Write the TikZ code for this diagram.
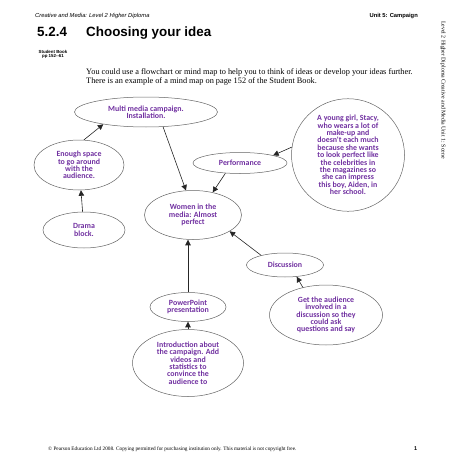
\documentclass[tikz,border=0pt]{standalone}
\usepackage{fontspec}
\setmainfont{Liberation Serif}
\newfontfamily\MapFont{Carlito}
\newfontfamily\HeadFont{Liberation Sans}
\usetikzlibrary{shapes.geometric}
\usetikzlibrary{arrows.meta}
\definecolor{ColText}{RGB}{112,48,160}
\definecolor{ColLine}{RGB}{100,100,100}
\tikzstyle{NodeMap}=[ellipse,draw=ColLine,line width=0.5pt,inner sep=0pt,align=center,
text=ColText,font=\MapFont\bfseries\fontsize{7.9}{7.4}\selectfont]
\tikzstyle{EdgeMap}=[black!85,line width=0.6pt,-{Triangle[length=5.5pt,width=5.5pt]}]
\tikzstyle{HeadText}=[anchor=base west,inner sep=0pt]
\begin{document}
\begin{tikzpicture}[x=1pt,y=-1pt]
    \useasboundingbox (0,0) rectangle (452,452);
    % page header
    \node[HeadText,font=\HeadFont\itshape\fontsize{5.8}{7}\selectfont](hdl)at(35,18){Creative and Media: Level 2 Higher Diploma};
    \node[HeadText,anchor=base east,font=\HeadFont\bfseries\fontsize{5.8}{7}\selectfont](hdr)at(418,18){Unit 5: Campaign};
    \node[HeadText,font=\HeadFont\bfseries\fontsize{13.4}{15}\selectfont](num)at(37,37){5.2.4};
    \node[HeadText,font=\HeadFont\bfseries\fontsize{13.4}{15}\selectfont](title)at(86,37){Choosing your idea};
    \node[inner sep=0pt,align=center,font=\HeadFont\bfseries\fontsize{4.4}{4.2}\selectfont](book)at(53,54){Student Book\\pp 152--61};
    \node[HeadText,font=\fontsize{8.3}{9}\selectfont](intro1)at(86,74.5){You could use a flowchart or mind map to help you to think of ideas or develop your ideas further.};
    \node[HeadText,font=\fontsize{8.3}{9}\selectfont](intro2)at(86,83){There is an example of a mind map on page 152 of the Student Book.};
    \node[inner sep=0pt,rotate=-90,font=\fontsize{5.8}{7}\selectfont](side)at(443,90){Level 2 Higher Diploma Creative and Media Unit 1: Scene};
    % mind map
    \node[NodeMap,minimum width=143pt,minimum height=30pt](multi)at(146,112){Multi media campaign.\\Installation.};
    \node[NodeMap,minimum width=90pt,minimum height=50pt](enough)at(79,165){Enough space\\to go around\\with the\\audience.};
    \node[NodeMap,minimum width=82pt,minimum height=36pt](drama)at(84,230){Drama\\block.};
    \node[NodeMap,minimum width=97pt,minimum height=49pt](women)at(193,215){Women in the\\media: Almost\\perfect};
    \node[NodeMap,minimum width=94pt,minimum height=21pt](perf)at(240,163){Performance};
    \node[NodeMap,minimum width=113pt,minimum height=110pt](stacy)at(348,155){A young girl, Stacy,\\who wears a lot of\\make-up and\\doesn't each much\\because she wants\\to look perfect like\\the celebrities in\\the magazines so\\she can impress\\this boy, Aiden, in\\her school.};
    \node[NodeMap,minimum width=77pt,minimum height=24pt](disc)at(285,265){Discussion};
    \node[NodeMap,minimum width=113pt,minimum height=60pt](audience)at(326,315){Get the audience\\involved in a\\discussion so they\\could ask\\questions and say};
    \node[NodeMap,minimum width=76pt,minimum height=29pt](ppt)at(188,307){PowerPoint\\presentation};
    \node[NodeMap,minimum width=111pt,minimum height=67pt](campaign)at(188,363){Introduction about\\the campaign. Add\\videos and\\statistics to\\convince the\\audience to};
    \draw[EdgeMap](enough.79)--(multi.196);
    \draw[EdgeMap](drama)--(enough);
    \draw[EdgeMap](multi.-41)--(women.106);
    \draw[EdgeMap](perf.-145)--(women.49);
    \draw[EdgeMap](stacy.172)--(perf.13);
    \draw[EdgeMap](disc.158)--(women.-24);
    \draw[EdgeMap](audience.130)--(disc.-45);
    \draw[EdgeMap](ppt.north)--(ppt.north|-women.south);
    \draw[EdgeMap](campaign)--(ppt);
    % page footer
    \node[HeadText,font=\fontsize{5.25}{6}\selectfont](foot)at(48,450){\textcopyright{} Pearson Education Ltd 2008. Copying permitted for purchasing institution only. This material is not copyright free.};
    \node[HeadText,font=\HeadFont\bfseries\fontsize{5.5}{6}\selectfont](page)at(414,450){1};
\end{tikzpicture}
\end{document}
